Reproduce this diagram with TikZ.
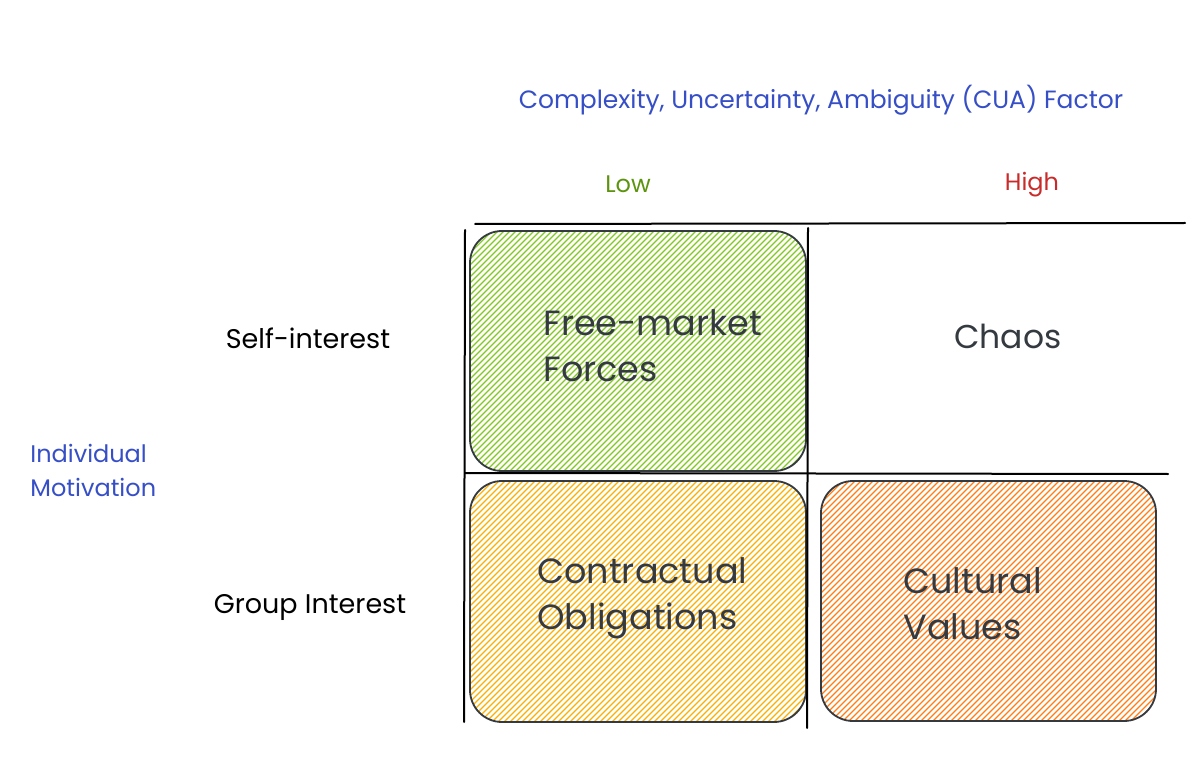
\documentclass[tikz,border=0pt]{standalone}
\usepackage{fontspec}
\setmainfont{Poppins}
\definecolor{txtdark}{HTML}{343A40}
\definecolor{txtblue}{HTML}{364FC7}
\definecolor{txtgreen}{HTML}{5C940D}
\definecolor{txtred}{HTML}{C92A2A}
\definecolor{hgreen}{HTML}{82C91E}
\definecolor{hyellow}{HTML}{FAB005}
\definecolor{horange}{HTML}{FD7E14}
\begin{document}
\begin{tikzpicture}[x=0.5pt,y=-0.5pt,
  gridline/.style={line width=1pt,black,line cap=round},
  boxtext/.style={text=txtdark,font=\fontsize{17.5}{23}\selectfont,align=left,inner sep=0pt},
  sidetext/.style={text=black,font=\fontsize{13.5}{16}\selectfont,inner sep=0pt},
  axistext/.style={text=txtblue,font=\fontsize{12.5}{16}\selectfont,inner sep=0pt},
  leveltext/.style={font=\fontsize{12}{14}\selectfont,inner sep=0pt},
  hatch/.style={line width=0.55pt}]
\useasboundingbox (0,0) rectangle (1200,770);
\fill[white] (0,0) rectangle (1200,770);

% hatched boxes
\newcommand{\hatchbox}[6]{% x1,y1,x2,y2,color,name
  \begin{scope}
    \clip[rounded corners=16pt] (#1,#2) rectangle (#3,#4);
    \foreach \i in {-260,-254,...,340}
      \draw[hatch,#5] (#1+\i,#4) -- ++(260,-260);
  \end{scope}
  \draw[line width=0.9pt,txtdark,rounded corners=16pt] (#1,#2) rectangle (#3,#4);
  \coordinate (#6) at ({(#1+#3)/2},{(#2+#4)/2});
}
\hatchbox{470}{231}{806}{471}{hgreen}{fm}
\hatchbox{470}{481}{806}{722}{hyellow}{co}
\hatchbox{821}{481}{1156}{721}{horange}{cv}

% grid lines
\coordinate (tl) at (475,224);
\coordinate (tr) at (1185,223);
\coordinate (lt) at (465,230);
\coordinate (lb) at (464,722);
\coordinate (mt) at (808,228);
\coordinate (mb) at (807,728);
\coordinate (ml) at (465,473);
\coordinate (mr) at (1168,474);
\draw[gridline] (tl) -- (tr);
\draw[gridline] (lt) -- (lb);
\draw[gridline] (mt) -- (mb);
\draw[gridline] (ml) -- (mr);

% texts
\node[axistext] (title) at (821,100) {Complexity, Uncertainty, Ambiguity (CUA) Factor};
\node[leveltext,text=txtgreen] (low) at (628,184) {Low};
\node[leveltext,text=txtred] (high) at (1032,185) {High};
\node[sidetext] (self) at (308,338) {Self-interest};
\node[sidetext] (group) at (310,607) {Group Interest};
\node[axistext,anchor=west,align=left,font=\fontsize{12}{17}\selectfont] (indiv) at (30,470) {Individual\\Motivation};

\node[boxtext,anchor=west] (fmt) at (543,346) {Free-market\\Forces};
\node[boxtext,font=\fontsize{16.5}{20}\selectfont] (chaos) at (1008,336) {Chaos};
\node[boxtext,anchor=west] (cot) at (537,598) {Contractual\\Obligations};
\node[boxtext,anchor=west] (cvt) at (903,604) {Cultural\\Values};
\end{tikzpicture}
\end{document}
